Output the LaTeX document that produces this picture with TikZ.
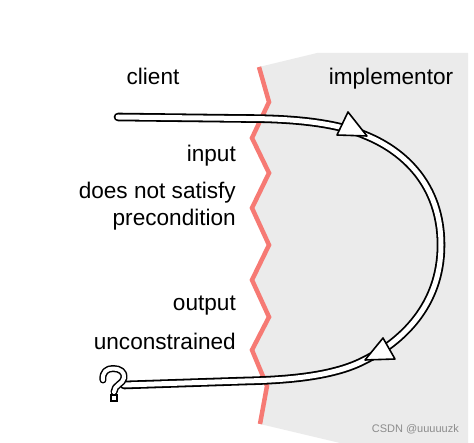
\documentclass[tikz,border=0pt]{standalone}
\usepackage{fontspec}
\setmainfont{Liberation Sans}
\definecolor{wallred}{RGB}{246,122,116}
\definecolor{implgray}{RGB}{235,235,235}

\begin{document}
\begin{tikzpicture}[x=1pt, y=-1pt,
    lbl/.style={font=\fontsize{22.6}{27}\selectfont, inner sep=0pt, anchor=base},
    side/.style={lbl, anchor=base east},
    wall/.style={draw=wallred, line width=4.5pt, line join=miter},
    flow/.style={draw=black, double=white, line width=1.8pt, double distance=5pt, line cap=round, line join=round},
    head/.style={draw=black, fill=white, line width=1.6pt, line join=round},
    qmark/.style={draw=black, double=white, line width=1.5pt, double distance=4pt, line cap=round, line join=round}
]
    \useasboundingbox (0,0) rectangle (474,443);
    \def\wallpath{(259,67) -- (269,102) -- (252,138) -- (269,173) -- (252,208) -- (269,245) -- (252,280) -- (269,317) -- (252,350) -- (267,386) -- (260,424)}
    \fill[implgray] \wallpath -- (340,443) -- (468,443) -- (468,53) -- (317,53) -- cycle;
    \draw[wall] \wallpath;

    \node[lbl] (client) at (153,85) {client};
    \node[lbl] (impl) at (391,85) {implementor};
    \node[side] (input) at (236,162) {input};
    \node[side] (nosat) at (236,199) {does not satisfy};
    \node[side] (precond) at (236,226) {precondition};
    \node[side] (output) at (236,311) {output};
    \node[side] (uncon) at (236,350) {unconstrained};
    \node[font=\fontsize{11}{13}\selectfont, text=black!45, anchor=base east, inner sep=0pt] (mark) at (459,433) {CSDN @uuuuuzk};

    \coordinate (src) at (118,117);
    \coordinate (topTip) at (367,136);
    \coordinate (east) at (441,245);
    \coordinate (botTip) at (365,360);
    \coordinate (qm) at (124,385);
    \draw[flow] (src) -- (245,118.5) .. controls (300,118.5) and (340,124) .. (topTip)
        .. controls (403,151) and (441,184) .. (east)
        .. controls (441,306) and (401,342) .. (botTip)
        .. controls (335,376) and (290,380) .. (245,381) -- (qm);
    \draw[head] (348,112) -- (topTip) -- (337,135) -- cycle;
    \draw[head] (383,338) -- (botTip) -- (395,359) -- cycle;

    % question mark at the free end
    \draw[qmark] (103,380) .. controls (102,372) and (107,368.5) .. (113,368.5)
        .. controls (120,368.5) and (125,372) .. (124,378)
        .. controls (123,384) and (114,385) .. (114,392);
    \draw[black, line width=1.5pt, fill=white] (111,395) rectangle (117,401);
\end{tikzpicture}
\end{document}
